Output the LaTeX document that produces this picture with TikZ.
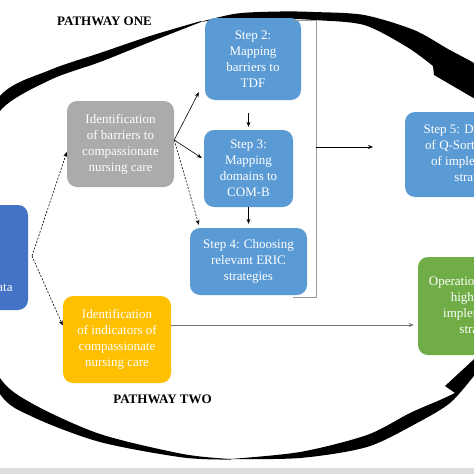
\documentclass[tikz,border=0pt]{standalone}
\usepackage{fontspec}
\setmainfont{Liberation Serif}
\usepackage{tikz}
\usetikzlibrary{arrows.meta,positioning}

\begin{document}
\begin{tikzpicture}[
    x=1pt, y=-1pt,
    box/.style={rectangle, rounded corners=10pt, text=white, align=center, inner sep=2pt,
                font=\fontsize{13}{16}\selectfont},
    greybox/.style={box, fill=black!33},
    stepbox/.style={box, fill=stepblue},
    arrow/.style={-{Stealth[length=5pt,width=4pt]}, line width=0.6pt},
    dasharrow/.style={arrow, dash pattern=on 2pt off 1.5pt},
    pathlabel/.style={font=\fontsize{13}{16}\selectfont\bfseries},
    swoosh/.style={fill=black}
]
    \definecolor{stepblue}{HTML}{5B9BD5}
    \definecolor{datablue}{HTML}{4472C4}
    \definecolor{amber}{HTML}{FFC000}
    \definecolor{leaf}{HTML}{70AD47}

    \useasboundingbox (0,0) rectangle (474,474);
    \clip (0,0) rectangle (474,474);
    \fill[black!13] (0,468) rectangle (474,474);

    % Swooshes
    \fill[swoosh] plot[smooth] coordinates {(201,21) (150,36) (100,53) (50,70) (0,96) (-35,170) (-48,245) (-35,320) (0,394) (33,417) (100,442) (183,457.5) (231,459.5)}
        -- plot[smooth] coordinates {(231,459) (183,454) (100,434) (33,404) (0,378) (-22,320) (-30,245) (-22,170) (0,111) (50,80) (100,62) (150,42) (201,22)} -- cycle;
    \fill[swoosh] plot[smooth] coordinates {(200,22) (237,13.5) (280,11.5) (314,12) (364,15) (414,30) (448,49) (474,63) (490,74)}
        -- (502,58) -- (506,117) -- (434,75)
        -- plot[smooth] coordinates {(433,66) (407,47) (364,25) (314,20) (280,18.5) (237,18) (200,22)} -- cycle;
    \fill[swoosh] plot[smooth] coordinates {(230,459) (300,452) (367,435) (410,413) (440,400) (455,393)}
        -- (445,386) -- (497,338) -- (480,368)
        -- plot[smooth] coordinates {(473,377) (450,403) (417,423) (367,447) (300,458) (230,459)} -- cycle;

    % Labels
    \node[pathlabel] (one) at (104.5,21) {PATHWAY ONE};
    \node[pathlabel] (two) at (162.5,399) {PATHWAY TWO};

    % Boxes
    \node[box, fill=datablue, minimum width=138pt, minimum height=105pt] (datasrc) at (-41,257.5) {};
    \node[text=white, font=\fontsize{13}{16}\selectfont, inner sep=0pt] (datatext) at (1.8,287) {data};
    \node[greybox, minimum width=107pt, minimum height=86pt] (barriers) at (120.5,144) {Identification\\of barriers to\\compassionate\\nursing care};
    \node[box, fill=amber, minimum width=108pt, minimum height=87pt] (indicators) at (117,339.5) {Identification\\of indicators of\\compassionate\\nursing care};
    \node[stepbox, minimum width=96pt, minimum height=82pt] (s2) at (253,59) {Step 2:\\Mapping\\barriers to\\TDF};
    \node[stepbox, minimum width=89pt, minimum height=77pt] (s3) at (248.5,168.5) {Step 3:\\Mapping\\domains to\\COM-B};
    \node[stepbox, minimum width=117pt, minimum height=67pt] (s4) at (248.5,261.5) {Step 4: Choosing\\relevant ERIC\\strategies};
    \node[stepbox, minimum width=148pt, minimum height=85pt] (s5) at (479,154.5) {Step 5: Development\\of Q-Sort statements\\of implementation\\strategies};
    \node[box, fill=leaf, minimum width=132pt, minimum height=98pt] (operational) at (484,306) {Operationalisation of\\high-priority\\implementation\\strategies};

    % Bracket
    \coordinate (brtop) at (316,20);
    \coordinate (brbot) at (316,297);
    \coordinate (brmid) at (316,147);
    \coordinate (s5in) at (373,147);
    \coordinate (split) at (32,256);
    \draw[black!40, line width=0.6pt] (brtop -| s2.south) ++(40,0) -- (brtop) -- (brbot) -- ++(-23,0);

    % Arrows
    \draw[dasharrow] (split) -- ([yshift=-8pt]barriers.west);
    \draw[dasharrow] (split) -- ([yshift=14pt]indicators.west);
    \draw[arrow] ([yshift=4pt]barriers.east) -- ([xshift=-6pt,yshift=8pt]s2.south west);
    \draw[arrow] ([yshift=4pt]barriers.east) -- ([xshift=-2pt,yshift=10.5pt]s3.west);
    \draw[dasharrow] ([yshift=4pt]barriers.east) -- ([xshift=9pt,yshift=3pt]s4.north west);
    \draw[arrow] ([yshift=-13pt]s2.south -| s3.north) -- ([yshift=3pt]s3.north);
    \draw[arrow, line width=1pt] (s3.south) -- ([yshift=4pt]s4.north);
    \draw[arrow] (brmid) -- (s5in);
    \draw[arrow, black!55] ([yshift=14.5pt]indicators.east) -- ([yshift=14.5pt,xshift=-4pt]indicators.east -| operational.west);
\end{tikzpicture}
\end{document}
